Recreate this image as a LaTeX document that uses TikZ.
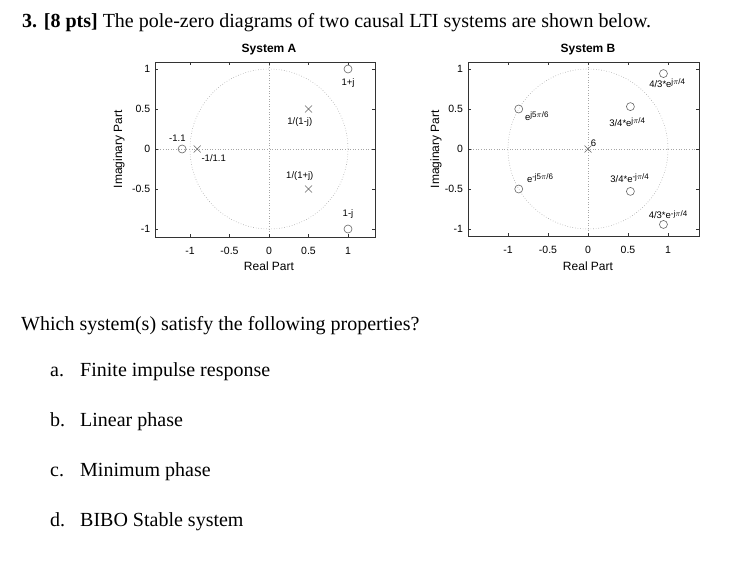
\documentclass[tikz,border=0pt]{standalone}
\usepackage{fontspec}
\setmainfont{Liberation Serif}
\setsansfont{Liberation Sans}
\newcommand{\spx}[1]{\raisebox{0.55ex}{\fontsize{8}{9}\selectfont #1}}
\begin{document}
\begin{tikzpicture}[x=1pt,y=-1pt,
  ax/.style={draw=black!80,line width=0.5pt},
  grid/.style={draw=black!35,dotted,line width=0.6pt},
  zero/.style={draw=black!60,line width=0.6pt},
  tick/.style={font=\sffamily\fontsize{10.5}{12}\selectfont},
  lab/.style={font=\sffamily\fontsize{12}{14}\selectfont},
  ann/.style={font=\sffamily\fontsize{9.5}{11}\selectfont,inner sep=0pt},
  txt/.style={font=\fontsize{20}{22}\selectfont,anchor=base west,inner sep=0pt}]
\useasboundingbox (0,0) rectangle (751,584);
\node[txt] (t) at (22,27) {\textbf{3. [8 pts]} The pole-zero diagrams of two causal LTI systems are shown below.};
% ---------- System A
\begin{scope}[shift={(269,149)},x=79pt,y=80pt]
 \draw[grid] (0,0) circle (1);
 \draw[grid] (-1.44,0) -- (1.34,0);
 \draw[grid] (0,-1.1) -- (0,1.09);
 \draw[ax] (-1.44,-1.1) rectangle (1.34,1.09);
 \foreach \v in {-1,-0.5,0,0.5,1}{
   \draw[ax] (\v,-1.1) -- ++(0,3pt); \draw[ax] (\v,1.09) -- ++(0,-3pt);
   \node[tick] (xa\v) at (\v,-1.27) {\v};
   \draw[ax] (-1.44,\v) -- ++(3pt,0); \draw[ax] (1.34,\v) -- ++(-3pt,0);
   \node[tick,anchor=east] (ya\v) at (-1.46,\v) {\v};}
 \node[lab,font=\sffamily\bfseries\fontsize{12}{14}\selectfont] (ta) at (0,1.24) {System A};
 \node[lab] (xla) at (0,-1.47) {Real Part};
 \node[lab,rotate=90] (yla) at (-1.9,0) {Imaginary Part};
 \draw[zero] (1,1) circle (4pt) (1,-1) circle (4pt) (-1.1,0) circle (4pt);
 \foreach \p in {(0.5,0.5),(0.5,-0.5),(-0.909,0)}
   \draw[zero] \p ++(-3.5pt,-3.5pt) -- ++(7pt,7pt) \p ++(-3.5pt,3.5pt) -- ++(7pt,-7pt);
 \node[ann] (a1) at (1,0.83) {1+j};
 \node[ann] (a2) at (0.39,0.34) {1/(1-j)};
 \node[ann] (a3) at (-1.16,0.14) {-1.1};
 \node[ann] (a4) at (-0.7,-0.11) {-1/1.1};
 \node[ann] (a5) at (0.39,-0.34) {1/(1+j)};
 \node[ann] (a6) at (1,-0.81) {1-j};
\end{scope}
% ---------- System B
\begin{scope}[shift={(588,149)},x=80pt,y=80pt]
 \draw[grid] (0,0) circle (1);
 \draw[grid] (-1.5,0) -- (1.39,0);
 \draw[grid] (0,-1.09) -- (0,1.09);
 \draw[ax] (-1.5,-1.09) rectangle (1.39,1.09);
 \foreach \v in {-1,-0.5,0,0.5,1}{
   \draw[ax] (\v,-1.09) -- ++(0,3pt); \draw[ax] (\v,1.09) -- ++(0,-3pt);
   \node[tick] (xb\v) at (\v,-1.26) {\v};
   \draw[ax] (-1.5,\v) -- ++(3pt,0); \draw[ax] (1.39,\v) -- ++(-3pt,0);
   \node[tick,anchor=east] (yb\v) at (-1.52,\v) {\v};}
 \node[lab,font=\sffamily\bfseries\fontsize{12}{14}\selectfont] (tb) at (0,1.24) {System B};
 \node[lab] (xlb) at (0,-1.47) {Real Part};
 \node[lab,rotate=90] (ylb) at (-1.9,0) {Imaginary Part};
 \draw[zero] (0.943,0.943) circle (4pt) (0.943,-0.943) circle (4pt)
   (0.53,0.53) circle (4pt) (0.53,-0.53) circle (4pt)
   (-0.866,0.5) circle (4pt) (-0.866,-0.5) circle (4pt);
 \draw[zero] (0,0) ++(-3.5pt,-3.5pt) -- ++(7pt,7pt) (0,0) ++(-3.5pt,3.5pt) -- ++(7pt,-7pt);
 \node[ann] (b1) at (0.99,0.82) {4/3*e\spx{j$\pi$/4}};
 \node[ann] (b2) at (0.49,0.34) {3/4*e\spx{j$\pi$/4}};
 \node[ann] (b3) at (-0.64,0.41) {e\spx{j5$\pi$/6}};
 \node[ann] (b4) at (0.07,0.07) {6};
 \node[ann] (b5) at (-0.6,-0.36) {e\spx{-j5$\pi$/6}};
 \node[ann] (b6) at (0.52,-0.36) {3/4*e\spx{-j$\pi$/4}};
 \node[ann] (b7) at (1,-0.82) {4/3*e\spx{-j$\pi$/4}};
\end{scope}
% ---------- questions
\node[txt] (q) at (21,330) {Which system(s) satisfy the following properties?};
\node[txt] (la) at (50,376) {a.}; \node[txt] (ia) at (80,376) {Finite impulse response};
\node[txt] (lb) at (50,426) {b.}; \node[txt] (ib) at (80,426) {Linear phase};
\node[txt] (lc) at (50,476) {c.}; \node[txt] (ic) at (80,476) {Minimum phase};
\node[txt] (ld) at (50,526) {d.}; \node[txt] (id) at (80,526) {BIBO Stable system};
\end{tikzpicture}
\end{document}
